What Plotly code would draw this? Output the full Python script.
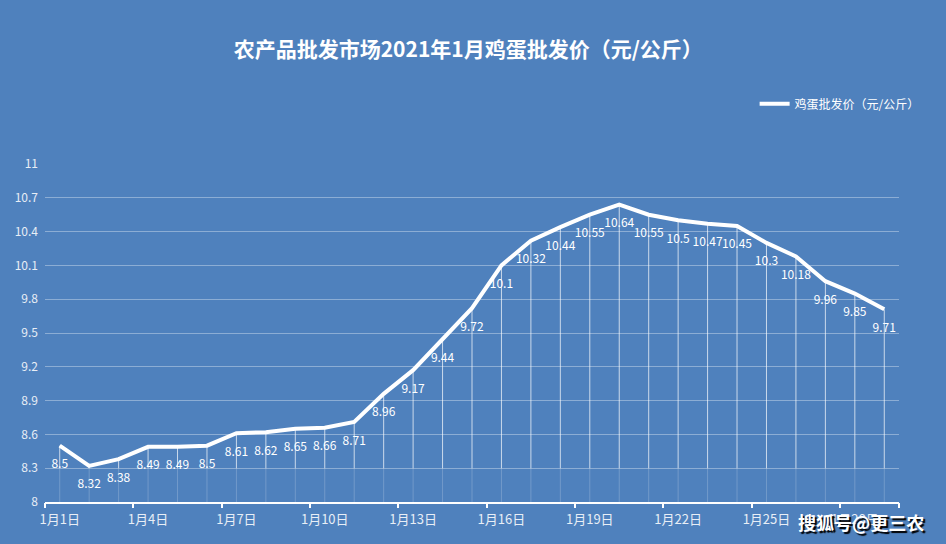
import plotly.graph_objects as go

dates = [f"1月{d}日" for d in range(1, 30)]
prices = [8.5, 8.32, 8.38, 8.49, 8.49, 8.5, 8.61, 8.62, 8.65, 8.66, 8.71, 8.96, 9.17,
          9.44, 9.72, 10.1, 10.32, 10.44, 10.55, 10.64, 10.55, 10.5, 10.47, 10.45,
          10.3, 10.18, 9.96, 9.85, 9.71]
y_ticks = [8, 8.3, 8.6, 8.9, 9.2, 9.5, 9.8, 10.1, 10.4, 10.7, 11]
y_tick_text = ["8", "8.3", "8.6", "8.9", "9.2", "9.5", "9.8", "10.1", "10.4", "10.7", "11"]
series_name = "鸡蛋批发价（元/公斤）"
title = "农产品批发市场2021年1月鸡蛋批发价（元/公斤）"
watermark = "搜狐号@更三农"

BG = "#4F81BD"
FONT = "Noto Sans CJK SC, Liberation Sans, sans-serif"
idx = list(range(len(dates)))
ymin = y_ticks[0]

# drop lines from each point to the axis
fade = 8.3
dx_top, dy_top, dx_bot, dy_bot = [], [], [], []
for i, v in zip(idx, prices):
    dx_top += [i, i, None]
    dy_top += [v, max(fade, ymin), None]
    dx_bot += [i, i, None]
    dy_bot += [min(fade, v), ymin, None]

fig = go.Figure()
fig.add_trace(go.Scatter(x=dx_top, y=dy_top, mode="lines", showlegend=False, hoverinfo="skip",
                         line=dict(color="rgba(255,255,255,0.7)", width=1)))
fig.add_trace(go.Scatter(x=dx_bot, y=dy_bot, mode="lines", showlegend=False, hoverinfo="skip",
                         line=dict(color="rgba(255,255,255,0.2)", width=1)))
fig.add_trace(go.Scatter(
    x=idx, y=prices, mode="lines+markers+text", name=series_name,
    text=[f"{v:g}" for v in prices], textposition="bottom center",
    textfont=dict(color="white", size=12, family=FONT),
    marker=dict(size=20, color="rgba(0,0,0,0)", line=dict(width=0)),
    line=dict(color="white", width=4),
))
# invisible trace on secondary x axis to render boundary tick marks
fig.add_trace(go.Scatter(x=[-0.5, len(dates) - 0.5], y=[ymin, ymin], xaxis="x2", mode="markers",
                         marker=dict(opacity=0), showlegend=False, hoverinfo="skip"))

fig.update_layout(
    width=946, height=544,
    paper_bgcolor=BG, plot_bgcolor=BG,
    margin=dict(l=45, r=47, t=164, b=42),
    font=dict(family=FONT, color="white"),
    title=dict(text=f"<b>{title}</b>", x=0.495, xanchor="center", y=0.908, yanchor="middle",
               font=dict(size=21, color="white", family=FONT)),
    showlegend=True,
    legend=dict(orientation="h", x=1.03, xanchor="right", y=1.178, yanchor="middle",
                bgcolor="rgba(0,0,0,0)", font=dict(size=12, color="white", family=FONT),
                itemwidth=30),
    xaxis=dict(range=[-0.5, len(dates) - 0.5], tickvals=idx[::3], ticktext=dates[::3],
               ticks="outside", ticklen=5, tickcolor="rgba(0,0,0,0)",
               showgrid=False, zeroline=False, showline=True, linecolor="white", linewidth=1.5,
               tickfont=dict(size=13, color="#E8EEF6", family=FONT)),
    xaxis2=dict(overlaying="x", range=[-0.5, len(dates) - 0.5],
                tickvals=[i - 0.5 for i in idx[::3]] + [len(dates) - 0.5], ticktext=[""] * 11,
                ticks="outside", ticklen=5, tickcolor="white", tickwidth=1.5,
                showgrid=False, zeroline=False, showline=False, side="bottom", anchor="y"),
    yaxis=dict(range=[ymin, y_ticks[-1]], tickvals=y_ticks, ticktext=y_tick_text,
               showgrid=True, gridcolor="rgba(255,255,255,0.35)", gridwidth=1,
               zeroline=False, showline=False, ticks="", ticklabelstandoff=6,
               tickfont=dict(size=12, color="#E8EEF6", family=FONT)),
    annotations=[dict(text=f"<b>{watermark}</b>", xref="paper", yref="paper",
                      x=0.955, y=-0.06, xanchor="center", yanchor="middle", showarrow=False,
                      font=dict(size=18, color="white", family=FONT, shadow="2px 2px 1px black"))],
)
fig.write_html("out.html")
